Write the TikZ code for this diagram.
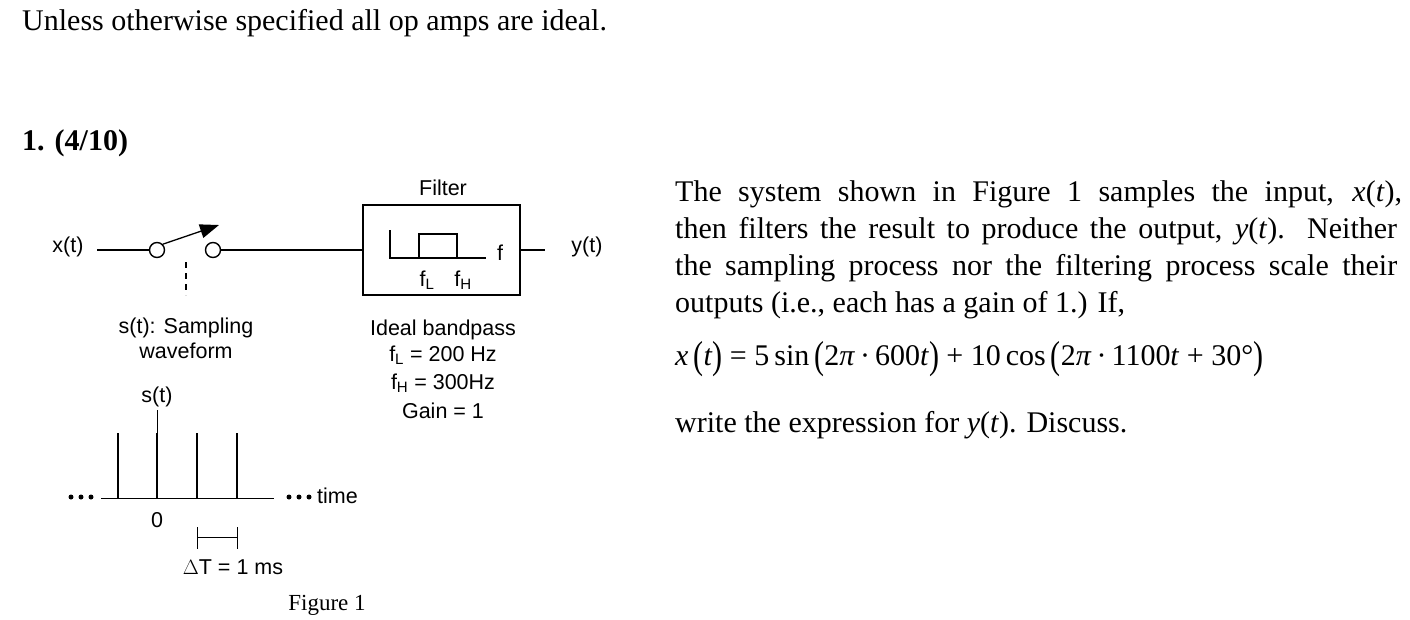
\documentclass[tikz,border=0pt]{standalone}
\usepackage{fontspec}
\setmainfont{Liberation Serif}
\newfontfamily\arial{Liberation Sans}
\usetikzlibrary{arrows.meta}
\newcommand{\bp}[1]{\raisebox{-0.12em}{\scalebox{1}[1.3]{#1}}}
\begin{document}
\begin{tikzpicture}[x=1pt,y=-1pt,
  sf/.style={font=\arial\fontsize{21.5}{25}\selectfont,inner sep=0pt},
  rm/.style={font=\fontsize{30}{33}\selectfont,inner sep=0pt,anchor=base west},
  wire/.style={line width=1.3pt},
  imp/.style={line width=2.6pt},
  thin/.style={line width=0.8pt},
  term/.style={circle,draw,line width=1.4pt,minimum size=15pt,inner sep=0pt,fill=white}]
\useasboundingbox (0,0) rectangle (1410,619);
\node[rm] (title) at (22,30) {Unless otherwise specified all op amps are ideal.};
\node[rm,font=\bfseries\fontsize{30}{33}\selectfont] (q) at (22,150) {1. (4/10)};
% switch
\node[sf] (x) at (68,247) {x(t)};
\node[term] (c1) at (157,250) {};
\node[term] (c2) at (213,250) {};
\coordinate (xw) at (97,250);
\draw[wire] (xw) -- (c1.west);
\coordinate (tip) at (219,225);
\draw[wire,-{Triangle[length=19pt,width=14pt]}] (c1.north east) -- (tip);
\coordinate (d1) at (186,262); \coordinate (d2) at (186,295);
\draw[wire,line width=1.6pt,dash pattern=on 6pt off 5pt] (d1) -- (d2);
% filter
\node[draw,line width=1.4pt,minimum width=157pt,minimum height=90pt,inner sep=0pt] (box) at (441.5,250) {};
\node[sf] (flt) at (443,188) {Filter};
\draw[wire] (c2.east) -- (box.west);
\coordinate (yw) at (545,250);
\draw[wire] (box.east) -- (yw);
\node[sf] (y) at (587,247) {y(t)};
\coordinate (a0) at (390,230); \coordinate (a1) at (390,258); \coordinate (a2) at (486,258);
\draw[wire] (a0) -- (a1) -- (a2);
\draw[wire] (419,258) -- (419,234) -- (457,234) -- (457,258);
\node[sf] (f) at (500,253) {f};
\node[sf] (fl) at (427,280) {f\textsubscript{L}};
\node[sf] (fh) at (463,280) {f\textsubscript{H}};
\node[sf,align=center] (sl) at (186,338) {s(t): Sampling\\waveform};
\node[sf] (ib) at (443,330) {Ideal bandpass};
\node[sf] (fl2) at (443,355) {f\textsubscript{L} = 200 Hz};
\node[sf] (fh2) at (443,383) {f\textsubscript{H} = 300Hz};
\node[sf] (g) at (443,411) {Gain = 1};
% impulse train
\node[sf] (st) at (157,397) {s(t)};
\draw[thin] (st.south) ++(0,3) -- (157,433);
\coordinate (b0) at (101,498); \coordinate (b1) at (274,498);
\draw[thin] (b0) -- (b1);
\foreach \xx in {118,157,197,237} \draw[imp] (\xx,433) -- (\xx,498);
\foreach \xx in {71,81,91,289,299,309} \fill (\xx,497) circle (2.5pt);
\node[sf,anchor=west] (dr) at (317,496) {time};
\node[sf] (zero) at (157,520) {0};
\draw[thin] (197,527) -- (197,549) (237,527) -- (237,549) (197,537) -- (237,537);
\node[sf] (dt) at (233,567) {$\Delta$T = 1 ms};
\node[rm,font=\fontsize{23}{25}\selectfont,anchor=center] (fig) at (327,605) {Figure 1};
% right text
\node[rm] (l1) at (675,201) {\makebox[727pt][s]{The system shown in Figure 1 samples the input, \textit{x}(\textit{t}),}};
\node[rm] (l2) at (675,238) {\makebox[722pt][s]{then filters the result to produce the output, \textit{y}(\textit{t}). Neither}};
\node[rm] (l3) at (675,275) {\makebox[722pt][s]{the sampling process nor the filtering process scale their}};
\node[rm] (l4) at (675,312) {outputs (i.e., each has a gain of 1.) If,};
\node[rm] (eq) at (675,365) {\textit{x}\,\bp{(}\textit{t}\bp{)} = 5\,sin\,\bp{(}2\textit{π}\,·\,600\textit{t}\bp{)} + 10\,cos\,\bp{(}2\textit{π}\,·\,1100\textit{t} + 30°\bp{)}};
\node[rm] (l5) at (675,432) {write the expression for \textit{y}(\textit{t}). Discuss.};
\end{tikzpicture}
\end{document}
